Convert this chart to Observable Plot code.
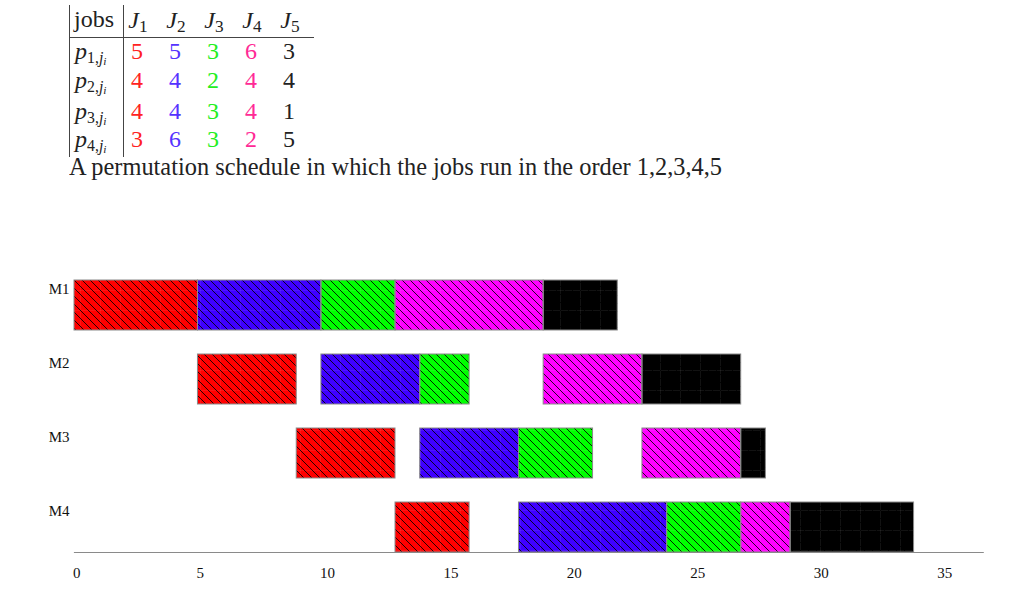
<!DOCTYPE html>
<html>
<head>
<meta charset="utf-8">
<script src="https://cdn.jsdelivr.net/npm/d3@7"></script>
<script src="https://cdn.jsdelivr.net/npm/@observablehq/plot@0.6"></script>
<style>
  html, body { margin: 0; padding: 0; background: #fff; }
  body { font-family: "Liberation Serif", "DejaVu Serif", serif; color: #222; }
  #header { position: relative; width: 1024px; height: 190px; overflow: hidden; }
  .t { position: absolute; white-space: nowrap; line-height: 1; font-family: "Liberation Serif", serif; }
  .vl { position: absolute; width: 1px; background: #444; }
  .hl { position: absolute; height: 1px; background: #444; }
  .sub { position: relative; top: 0.28em; font-size: 0.66em; }
  .sub2 { position: relative; top: 0.25em; font-size: 0.72em; }
  #chart svg { display: block; }
</style>
</head>
<body>
<div id="header"></div>
<div id="chart"></div>
<script>
// ---- data ----
const jobs = ["J1", "J2", "J3", "J4", "J5"];
const machines = ["M1", "M2", "M3", "M4"];
const jobColors = ["#ff0000", "#3f00ff", "#00ff00", "#ff00ff", "#000000"];
const tableColors = ["#ff2222", "#5533ff", "#22ee22", "#ff2a95", "#222222"];
const p1 = [5, 5, 3, 6, 3];
const p2 = [4, 4, 2, 4, 4];
const p3 = [4, 4, 3, 4, 1];
const p4 = [3, 6, 3, 2, 5];
const start1 = [0, 5, 10, 13, 19];
const start2 = [5, 10, 14, 19, 23];
const start3 = [9, 14, 18, 23, 27];
const start4 = [13, 18, 24, 27, 29];
const xTicks = [0, 5, 10, 15, 20, 25, 30, 35];
const caption = "A permutation schedule in which the jobs run in the order 1,2,3,4,5";

// ---- header (table + caption) ----
const header = document.getElementById("header");
const FS = 24;
const asc = 0.8375; // baseline offset for line-height:1 in Liberation Serif
function put(html, x, baseline, anchor, color, fs) {
  const d = document.createElement("div");
  d.className = "t";
  d.innerHTML = html;
  d.style.fontSize = (fs || FS) + "px";
  d.style.top = (baseline - asc * (fs || FS)) + "px";
  d.style.color = color || "#222";
  header.appendChild(d);
  const w = d.getBoundingClientRect().width;
  d.style.left = (anchor === "middle" ? x - w / 2 : x) + "px";
  return d;
}
function line(cls, x, y, len) {
  const d = document.createElement("div");
  d.className = cls;
  d.style.left = x + "px";
  d.style.top = y + "px";
  if (cls === "vl") d.style.height = len + "px"; else d.style.width = len + "px";
  header.appendChild(d);
}
const colX = [139, 177, 215, 253, 291];
const rowBase = [59, 88, 119, 147];
const pRows = [p1, p2, p3, p4];
line("vl", 69, 5, 152);
line("vl", 123, 5, 152);
line("hl", 69, 37, 245);
put("jobs", 74, 27, "start");
jobs.forEach((j, i) => put(`<i>J</i><span class="sub2">${j.slice(1)}</span>`, colX[i] - 1, 28, "middle"));
pRows.forEach((row, r) => {
  put(`<i>p</i><span class="sub">${r + 1},<i>j</i><span style="position:relative;top:0.15em;font-size:0.72em"><i>i</i></span></span>`, 75, rowBase[r], "start");
  row.forEach((v, i) => put(String(v), colX[i] - 2, rowBase[r], "middle", tableColors[i]));
});
const cap = put(caption, 69, 175, "start", "#222", 25);
const cw = cap.getBoundingClientRect().width;
cap.style.transformOrigin = "0 0";
cap.style.transform = `scaleX(${653 / cw})`;

// ---- chart ----
const rows = [];
[start1, start2, start3, start4].forEach((st, mi) => {
  const p = pRows[mi];
  st.forEach((s, ji) => rows.push({ machine: machines[mi], job: jobs[ji], start: s, end: s + p[ji] }));
});

const chart = Plot.plot({
  width: 1024,
  height: 406,
  marginLeft: 74,
  marginRight: 41.3,
  marginTop: 89,
  marginBottom: 44,
  x: { domain: [0, 36.8] },
  y: { domain: machines, paddingInner: 0.33, paddingOuter: 0 },
  color: { domain: jobs, range: jobColors },
  style: { fontFamily: "Liberation Serif, serif", fontSize: "15px", background: "white", color: "#111" },
  marks: [
    Plot.barX(rows, { x1: "start", x2: "end", y: "machine", fill: "job" }),
    Plot.barX(rows, { x1: "start", x2: "end", y: "machine", fill: "url(#hatch)" }),
    Plot.barX(rows, { x1: "start", x2: "end", y: "machine", fill: "none", stroke: "#8a8a8a", strokeWidth: 1 }),
    Plot.frame({ anchor: "bottom", stroke: "#8a8a8a", strokeWidth: 1.2 }),
    Plot.axisX(xTicks, { tickSize: 0, tickPadding: 15, textAnchor: "start", dx: -1.5, fontSize: 15, label: null }),
    Plot.axisY({ tickSize: 0, tickPadding: 5, dy: -16.7, fontSize: 15, label: null })
  ]
});
chart.insertAdjacentHTML("afterbegin",
  `<defs><pattern id="hatch" patternUnits="userSpaceOnUse" width="40" height="40">
    <path d="M0,0.5H40M0,20.5H40M0.5,0V40M20.5,0V40" stroke="#ffffff" stroke-opacity="0.07" stroke-width="1" fill="none"/>
    <path d="M-32,0L8,40M-24,0L16,40M-16,0L24,40M-8,0L32,40M0,0L40,40M8,0L48,40M16,0L56,40M24,0L64,40M32,0L72,40" stroke="#000" stroke-width="1" stroke-opacity="0.85" fill="none"/>
  </pattern></defs>`);
document.getElementById("chart").appendChild(chart);
</script>
</body>
</html>
